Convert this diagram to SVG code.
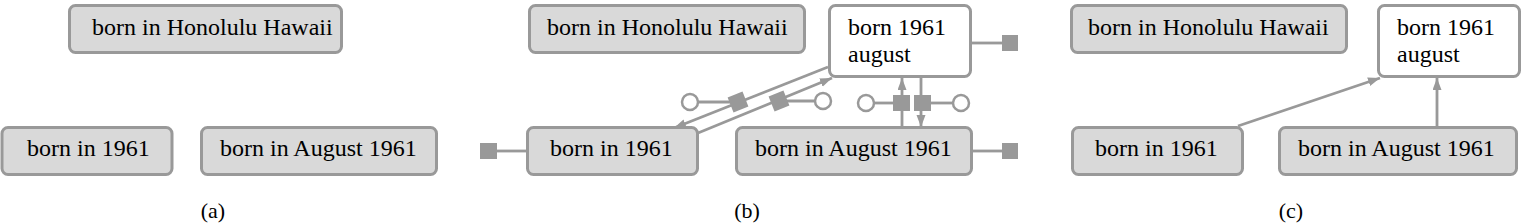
<svg xmlns="http://www.w3.org/2000/svg" width="1527" height="224" viewBox="0 0 1527 224">
<style>
.box{fill:#d9d9d9;stroke:#999;stroke-width:3}
.wbox{fill:#fff;stroke:#999;stroke-width:3}
text{font-family:'Liberation Serif',serif;fill:#000}
.t{font-size:24px}
.lbl{font-size:22px;text-anchor:middle}
.c{stroke:#999;stroke-width:2.8;fill:none}
.arr{stroke:#999;stroke-width:2.8;fill:none;marker-end:url(#ah)}
.sq{fill:#999}
.ci{fill:#fff;stroke:#999;stroke-width:2.5}
</style>
<defs>
<marker id="ah" markerUnits="userSpaceOnUse" markerWidth="13" markerHeight="10" refX="12" refY="4.5" orient="auto">
<path d="M0,0 L12,4.5 L0,9 z" fill="#999"/>
</marker>
</defs>
<g font-family="Liberation Serif, serif">
<!-- Panel (a) -->
<g id="a_honolulu"><rect class="box" x="69.5" y="5.5" width="272" height="47" rx="6"/><text class="t" x="92" y="35">born in Honolulu Hawaii</text></g>
<g id="a_1961"><rect class="box" x="2" y="127.5" width="170" height="47" rx="6"/><text class="t" x="27" y="156">born in 1961</text></g>
<g id="a_aug1961"><rect class="box" x="201.5" y="127.5" width="235" height="47" rx="6"/><text class="t" x="220" y="156">born in August 1961</text></g>
<text class="lbl" x="213" y="218">(a)</text>

<!-- Panel (b) -->
<g id="b_connectors">
<line class="c" x1="497" y1="151" x2="527" y2="151"/>
<rect class="sq" x="480" y="143" width="17" height="16"/>
<line class="c" x1="971" y1="43" x2="1002" y2="43"/>
<rect class="sq" x="1002" y="35" width="16" height="16"/>
<line class="c" x1="971" y1="151" x2="1002" y2="151"/>
<rect class="sq" x="1002" y="143" width="16" height="16"/>
<line class="arr" x1="828" y1="67" x2="674" y2="128"/>
<line class="arr" x1="698" y1="133" x2="832" y2="78"/>
<line class="c" x1="698" y1="102" x2="738" y2="102"/>
<circle class="ci" cx="690" cy="102" r="8"/>
<rect class="sq" x="730" y="94" width="16" height="16" transform="rotate(-21.6 738 102)"/>
<line class="c" x1="779" y1="101" x2="814" y2="101"/>
<circle class="ci" cx="823" cy="101" r="8"/>
<rect class="sq" x="771" y="93" width="16" height="16" transform="rotate(-22 779 101)"/>
<line class="arr" x1="902" y1="127" x2="902" y2="78"/>
<line class="arr" x1="921" y1="78" x2="921" y2="127"/>
<line class="c" x1="874" y1="103" x2="893" y2="103"/>
<circle class="ci" cx="866" cy="103" r="8"/>
<rect class="sq" x="893" y="95" width="17" height="16"/>
<line class="c" x1="931" y1="103" x2="953" y2="103"/>
<circle class="ci" cx="961" cy="103" r="8"/>
<rect class="sq" x="914" y="95" width="17" height="16"/>
</g>
<g id="b_honolulu"><rect class="box" x="529.5" y="5.5" width="275" height="47" rx="6"/><text class="t" x="547" y="35">born in Honolulu Hawaii</text></g>
<g id="b_1961"><rect class="box" x="527.5" y="127.5" width="170" height="47" rx="6"/><text class="t" x="550" y="156">born in 1961</text></g>
<g id="b_aug1961"><rect class="box" x="736.5" y="127.5" width="235" height="47" rx="6"/><text class="t" x="755" y="156">born in August 1961</text></g>
<g id="b_born1961aug"><rect class="wbox" x="829.5" y="5.5" width="141" height="71" rx="6"/><text class="t" x="848" y="35">born 1961</text><text class="t" x="848" y="62">august</text></g>
<text class="lbl" x="747" y="218">(b)</text>

<!-- Panel (c) -->
<g id="c_connectors">
<line class="arr" x1="1238" y1="126" x2="1380" y2="78"/>
<line class="arr" x1="1437" y1="127" x2="1437" y2="78"/>
</g>
<g id="c_honolulu"><rect class="box" x="1071.5" y="5.5" width="275" height="47" rx="6"/><text class="t" x="1088" y="35">born in Honolulu Hawaii</text></g>
<g id="c_1961"><rect class="box" x="1072.5" y="127.5" width="170" height="47" rx="6"/><text class="t" x="1095" y="156">born in 1961</text></g>
<g id="c_aug1961"><rect class="box" x="1279.5" y="127.5" width="237" height="47" rx="6"/><text class="t" x="1298" y="156">born in August 1961</text></g>
<g id="c_born1961aug"><rect class="wbox" x="1378.5" y="5.5" width="141" height="71" rx="6"/><text class="t" x="1397" y="35">born 1961</text><text class="t" x="1397" y="62">august</text></g>
<text class="lbl" x="1291" y="218">(c)</text>
</g>
</svg>
